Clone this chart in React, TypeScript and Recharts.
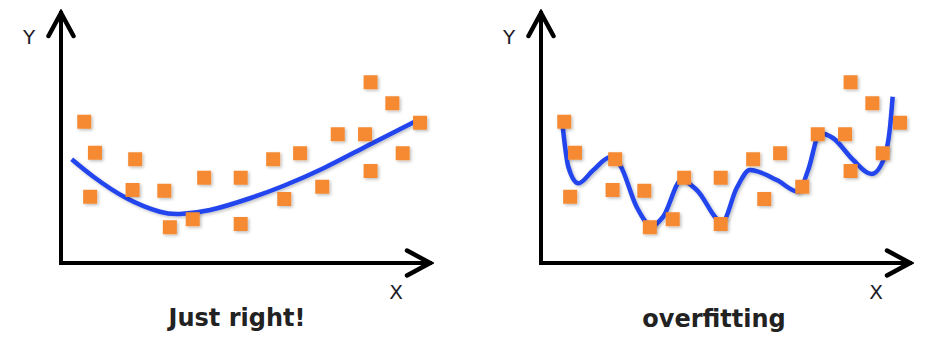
import React from 'react';
import { ComposedChart, Scatter, Line, XAxis, YAxis } from 'recharts';

// sample points (same set in both panels), 0..100 units on each axis
const POINT_X = [6.3, 9.2, 7.9, 20.1, 19.4, 28.0, 29.5, 35.7, 38.8, 48.7, 48.7, 57.5, 60.5, 64.8, 70.8, 75.0, 82.4, 83.9, 83.9, 89.8, 92.6, 97.3];
const POINT_Y = [56.5, 44.1, 26.5, 41.5, 29.2, 28.9, 14.3, 17.5, 34.1, 34.1, 15.6, 41.5, 25.6, 43.9, 30.5, 51.5, 51.5, 36.8, 72.3, 63.9, 43.9, 56.1];

// "just right" fit
const FIT_X = [2.9, 8.8, 17.8, 26.8, 32.2, 40.4, 51.2, 60.2, 71.0, 82.9, 97.3];
const FIT_Y = [41.5, 34.5, 25.9, 20.5, 19.6, 21.2, 25.9, 30.8, 37.8, 46.8, 57.6];

// overfitted curve
const OVER_X = [5.9, 7.4, 10.1, 14.2, 18.7, 21.4, 25.9, 30.0, 33.1, 38.1, 42.2, 49.1, 53.0, 56.6, 63.9, 69.7, 72.4, 75.6, 79.2, 84.6, 89.6, 92.8, 94.6, 95.3];
const OVER_Y = [54.3, 38.5, 31.9, 37.2, 42.3, 39.2, 22.5, 14.8, 18.5, 33.2, 29.2, 16.4, 29.9, 37.2, 33.2, 28.5, 37.2, 51.9, 49.9, 41.2, 35.6, 41.2, 54.5, 66.5];

const TITLES = ['Just right!', 'overfitting'];

const points = POINT_X.map((x, i) => ({ x, y: POINT_Y[i] }));
const fitCurve = FIT_X.map((x, i) => ({ x, y: FIT_Y[i] }));
const overCurve = OVER_X.map((x, i) => ({ x, y: OVER_Y[i] }));

const ORANGE = '#f58a32';
const BLUE = '#2244ee';
const INK = '#1c1c28';

const Square = (props: any) => {
  const { cx, cy } = props;
  if (cx == null || cy == null) return null;
  return <rect x={cx - 7} y={cy - 7} width={14} height={14} fill={ORANGE} filter="url(#soft)" />;
};

const axisStyle = { stroke: '#000', strokeWidth: 4, strokeLinecap: 'square' as const };

function Panel({ curve, left, curveType }: { curve: { x: number; y: number }[]; left: number; curveType: any }) {
  return (
    <div style={{ position: 'absolute', left, top: 0 }}>
      <ComposedChart width={450} height={340} margin={{ top: 13, right: 20, bottom: 76, left: 60 }}>
        <XAxis
          type="number"
          dataKey="x"
          domain={[0, 100]}
          height={1}
          tick={false}
          tickLine={false}
          axisLine={{ ...axisStyle, markerEnd: 'url(#arrow)' }}
        />
        <YAxis
          type="number"
          dataKey="y"
          domain={[0, 100]}
          width={1}
          tick={false}
          tickLine={false}
          axisLine={{ ...axisStyle, markerStart: 'url(#arrow)' }}
        />
        <Scatter data={points} shape={<Square />} isAnimationActive={false} />
        <Line
          data={curve}
          dataKey="y"
          type={curveType}
          stroke={BLUE}
          strokeWidth={4.5}
          dot={false}
          activeDot={false}
          filter="url(#soft)"
          isAnimationActive={false}
        />
      </ComposedChart>
    </div>
  );
}

export default function App() {
  return (
    <div style={{ position: 'absolute', left: 0, top: 0, width: 926, height: 340, background: '#fff', overflow: 'hidden' }}>
      <svg width={0} height={0} style={{ position: 'absolute' }}>
        <defs>
          <marker
            id="arrow"
            markerUnits="userSpaceOnUse"
            viewBox="0 0 32 32"
            markerWidth={32}
            markerHeight={32}
            refX={28}
            refY={16}
            orient="auto-start-reverse"
          >
            <path d="M5,3.5 L28,16 L5,28.5" fill="none" stroke="#000" strokeWidth={4.5} strokeLinecap="round" strokeLinejoin="miter" />
          </marker>
          <filter id="soft" x="-30%" y="-30%" width="160%" height="160%">
            <feDropShadow dx={1.5} dy={1.5} stdDeviation={1.5} floodColor="#000" floodOpacity={0.25} />
          </filter>
        </defs>
      </svg>
      <Panel curve={fitCurve} left={0} curveType="natural" />
      <Panel curve={overCurve} left={480} curveType="monotone" />
      <svg width={926} height={340} style={{ position: 'absolute', left: 0, top: 0, pointerEvents: 'none' }}>
        <g fontFamily="DejaVu Sans" fill={INK} fontSize={20} textAnchor="middle">
          <text x={29} y={44}>Y</text>
          <text x={396} y={299}>X</text>
          <text x={509} y={44}>Y</text>
          <text x={876} y={299}>X</text>
        </g>
        <g fontFamily="DejaVu Sans" fontWeight="bold" fill="#222" fontSize={24} textAnchor="middle">
          <text x={237} y={326}>{TITLES[0]}</text>
          <text x={714} y={327}>{TITLES[1]}</text>
        </g>
      </svg>
    </div>
  );
}
